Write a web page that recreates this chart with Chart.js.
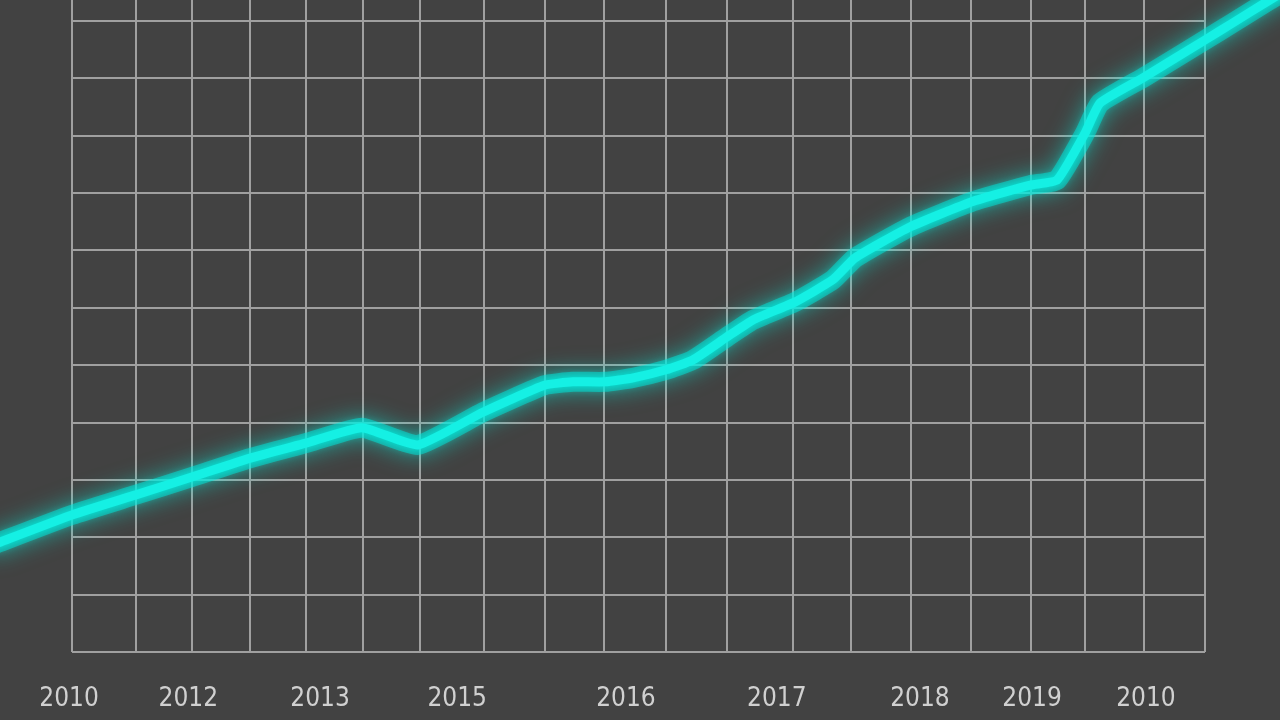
<!DOCTYPE html>
<html lang="en">
<head>
    <meta charset="UTF-8">
    <title>Growth line</title>
    <script src="https://cdn.jsdelivr.net/npm/chart.js"></script>
    <style>
        html, body { margin: 0; padding: 0; background: #424242; }
        #wrap { width: 1280px; height: 720px; position: relative; }
    </style>
</head>
<body>
    <div id="wrap"><canvas id="myChart"></canvas></div>

    <script>
        // series (x in grid columns, y in grid rows)
        const periods = [-1.3, 0, 1.07, 2.01, 2.99, 3.92, 4.86, 5.8, 6.89, 7.92, 8.4, 8.94, 9.41, 9.96,
                         10.41, 10.98, 11.42, 12.12, 12.76, 13.13, 14.05, 15.09, 16.07, 16.52, 16.99,
                         17.24, 17.96, 19.0, 19.47, 20.09, 20.5];
        const values = [1.88, 2.39, 2.74, 3.05, 3.38, 3.64, 3.91, 3.61, 4.18, 4.65, 4.71, 4.71, 4.78, 4.92,
                        5.09, 5.49, 5.79, 6.1, 6.49, 6.87, 7.41, 7.85, 8.14, 8.23, 9.05,
                        9.57, 10.01, 10.67, 10.97, 11.37, 11.62];

        // year labels under the grid and where they sit
        const yearLabels = ['2010', '2012', '2013', '2015', '2016', '2017', '2018', '2019', '2010'];
        const yearAt = [-0.05, 1.95, 4.16, 6.46, 9.29, 11.82, 14.22, 16.1, 18.01];

        // the hand-drawn grid is not evenly spaced
        const gridCols = [0, 1.07, 2.01, 2.99, 3.92, 4.88, 5.84, 6.91, 7.93, 8.92, 9.96, 10.98,
                          12.09, 13.06, 14.07, 15.08, 16.08, 16.99, 17.98, 19];

        const glow = {
            id: 'glow',
            beforeDatasetDraw(chart, args) {
                const ctx = chart.ctx;
                ctx.save();
                ctx.shadowColor = 'rgba(0, 255, 235, 1)';
                ctx.shadowBlur = args.index === 0 ? 22 : 10;
            },
            afterDatasetDraw(chart) {
                chart.ctx.restore();
            }
        };

        const points = periods.map((p, i) => ({ x: p, y: values[i] }));

        const ctx = document.getElementById('myChart').getContext('2d');
        new Chart(ctx, {
            type: 'line',
            data: {
                datasets: [{
                    data: points,
                    borderColor: 'rgba(0, 230, 220, 0.5)',
                    borderWidth: 20,
                    pointRadius: 0,
                    tension: 0.15,
                    clip: false,
                    borderJoinStyle: 'round',
                    borderCapStyle: 'round'
                }, {
                    data: points,
                    borderColor: '#3ff8ed',
                    borderWidth: 9,
                    pointRadius: 0,
                    tension: 0.15,
                    clip: false,
                    borderJoinStyle: 'round',
                    borderCapStyle: 'round'
                }]
            },
            plugins: [glow],
            options: {
                responsive: true,
                maintainAspectRatio: false,
                animation: false,
                layout: { padding: { left: 72, right: 75, top: 0, bottom: 0 } },
                plugins: {
                    legend: { display: false },
                    tooltip: { enabled: false }
                },
                scales: {
                    x: {
                        type: 'linear',
                        position: 'bottom',
                        bounds: 'data',
                        // range set here so the line can run past both edges
                        afterDataLimits(scale) {
                            scale.min = 0;
                            scale.max = 19;
                        },
                        afterBuildTicks(scale) {
                            scale.ticks = gridCols.map(v => ({ value: v }));
                        },
                        ticks: { display: false },
                        border: { display: false },
                        grid: { color: '#a0a0a0', lineWidth: 2, drawTicks: false }
                    },
                    years: {
                        type: 'linear',
                        position: 'bottom',
                        min: 0,
                        max: 19,
                        afterBuildTicks(scale) {
                            scale.ticks = yearAt.map(v => ({ value: v }));
                        },
                        afterFit(scale) {
                            scale.height = 68;
                        },
                        ticks: {
                            autoSkip: false,
                            maxRotation: 0,
                            padding: 24,
                            color: '#d0d0d0',
                            font: { family: "'Liberation Sans Narrow', 'DejaVu Sans Condensed', sans-serif", size: 26 },
                            callback(value, index) {
                                return yearLabels[index];
                            }
                        },
                        border: { display: false },
                        grid: { display: false }
                    },
                    y: {
                        min: 0,
                        max: 11.367,
                        afterBuildTicks(scale) {
                            scale.ticks = scale.ticks.filter(t => Number.isInteger(t.value));
                        },
                        afterFit(scale) {
                            scale.width = 0;
                        },
                        ticks: { display: false, stepSize: 1 },
                        border: { display: false },
                        grid: { color: '#a0a0a0', lineWidth: 2, drawTicks: false }
                    }
                }
            }
        });
    </script>
</body>
</html>
